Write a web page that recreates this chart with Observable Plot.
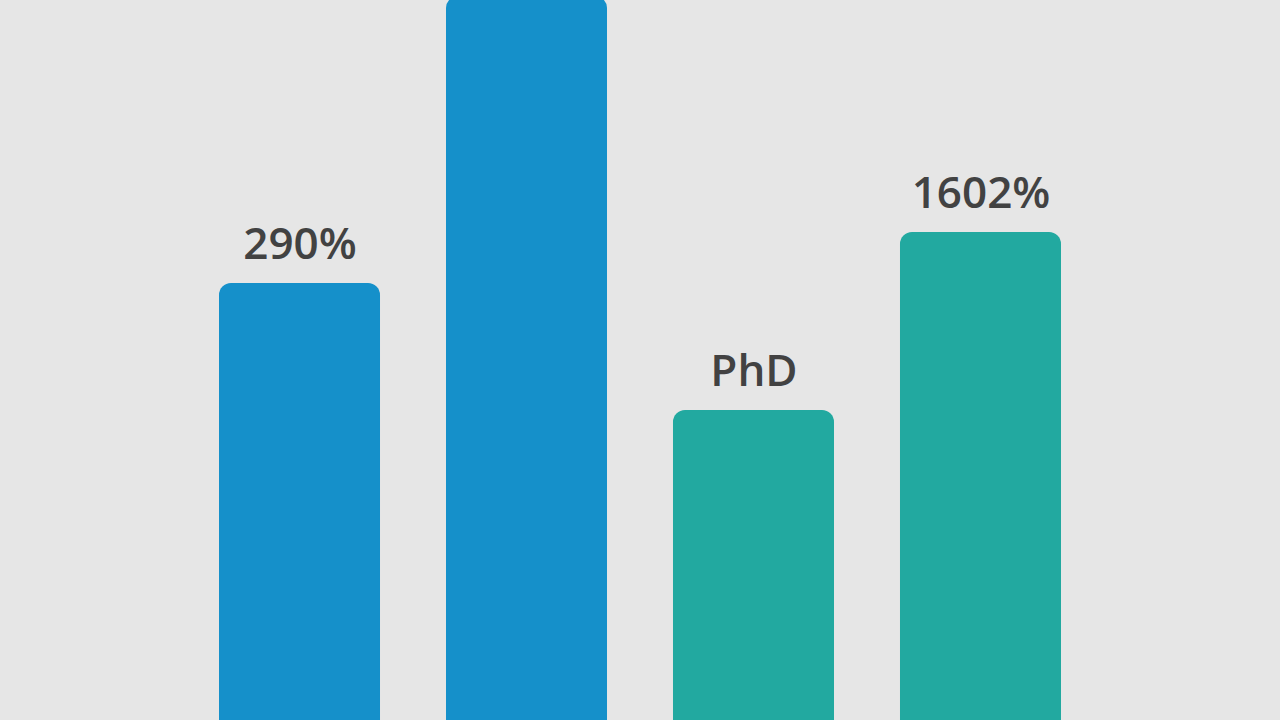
<!DOCTYPE html>
<html>
<head>
<meta charset="utf-8">
<script src="https://cdn.jsdelivr.net/npm/d3@7"></script>
<script src="https://cdn.jsdelivr.net/npm/@observablehq/plot@0.6"></script>
<style>
  html, body { margin: 0; padding: 0; background: #e6e6e6; overflow: hidden; }
  #chart svg { display: block; overflow: hidden; }
</style>
</head>
<body>
<div id="chart"></div>
<script>
const categories = ["A", "B", "C", "D"];
const values = [45.7, 74.4, 33.0, 50.8];
const labels = ["290%", "", "PhD", "1602%"];
const groups = ["Group 1", "Group 1", "Group 2", "Group 2"];

const data = categories.map((c, i) => ({cat: c, value: values[i], label: labels[i], group: groups[i]}));

const plot = Plot.plot({
  width: 1280,
  height: 720,
  marginLeft: 219,
  marginRight: 219,
  marginTop: 0,
  marginBottom: 0,
  style: {background: "#e6e6e6", overflow: "hidden"},
  x: {domain: categories, paddingInner: 0.2907, paddingOuter: 0, round: false, axis: null},
  y: {domain: [0, 74], range: [740, 0], axis: null},
  color: {domain: ["Group 1", "Group 2"], range: ["#1590ca", "#22a9a0"]},
  marks: [
    Plot.barY(data, {x: "cat", y: "value", fill: "group", rx: 12}),
    Plot.text(data, {
      x: "cat", y: "value", text: "label",
      lineAnchor: "bottom", dy: -25,
      fontSize: 44, fontWeight: 600, fontFamily: "Open Sans",
      fill: "#424242"
    })
  ]
});
document.getElementById("chart").appendChild(plot);
</script>
</body>
</html>
